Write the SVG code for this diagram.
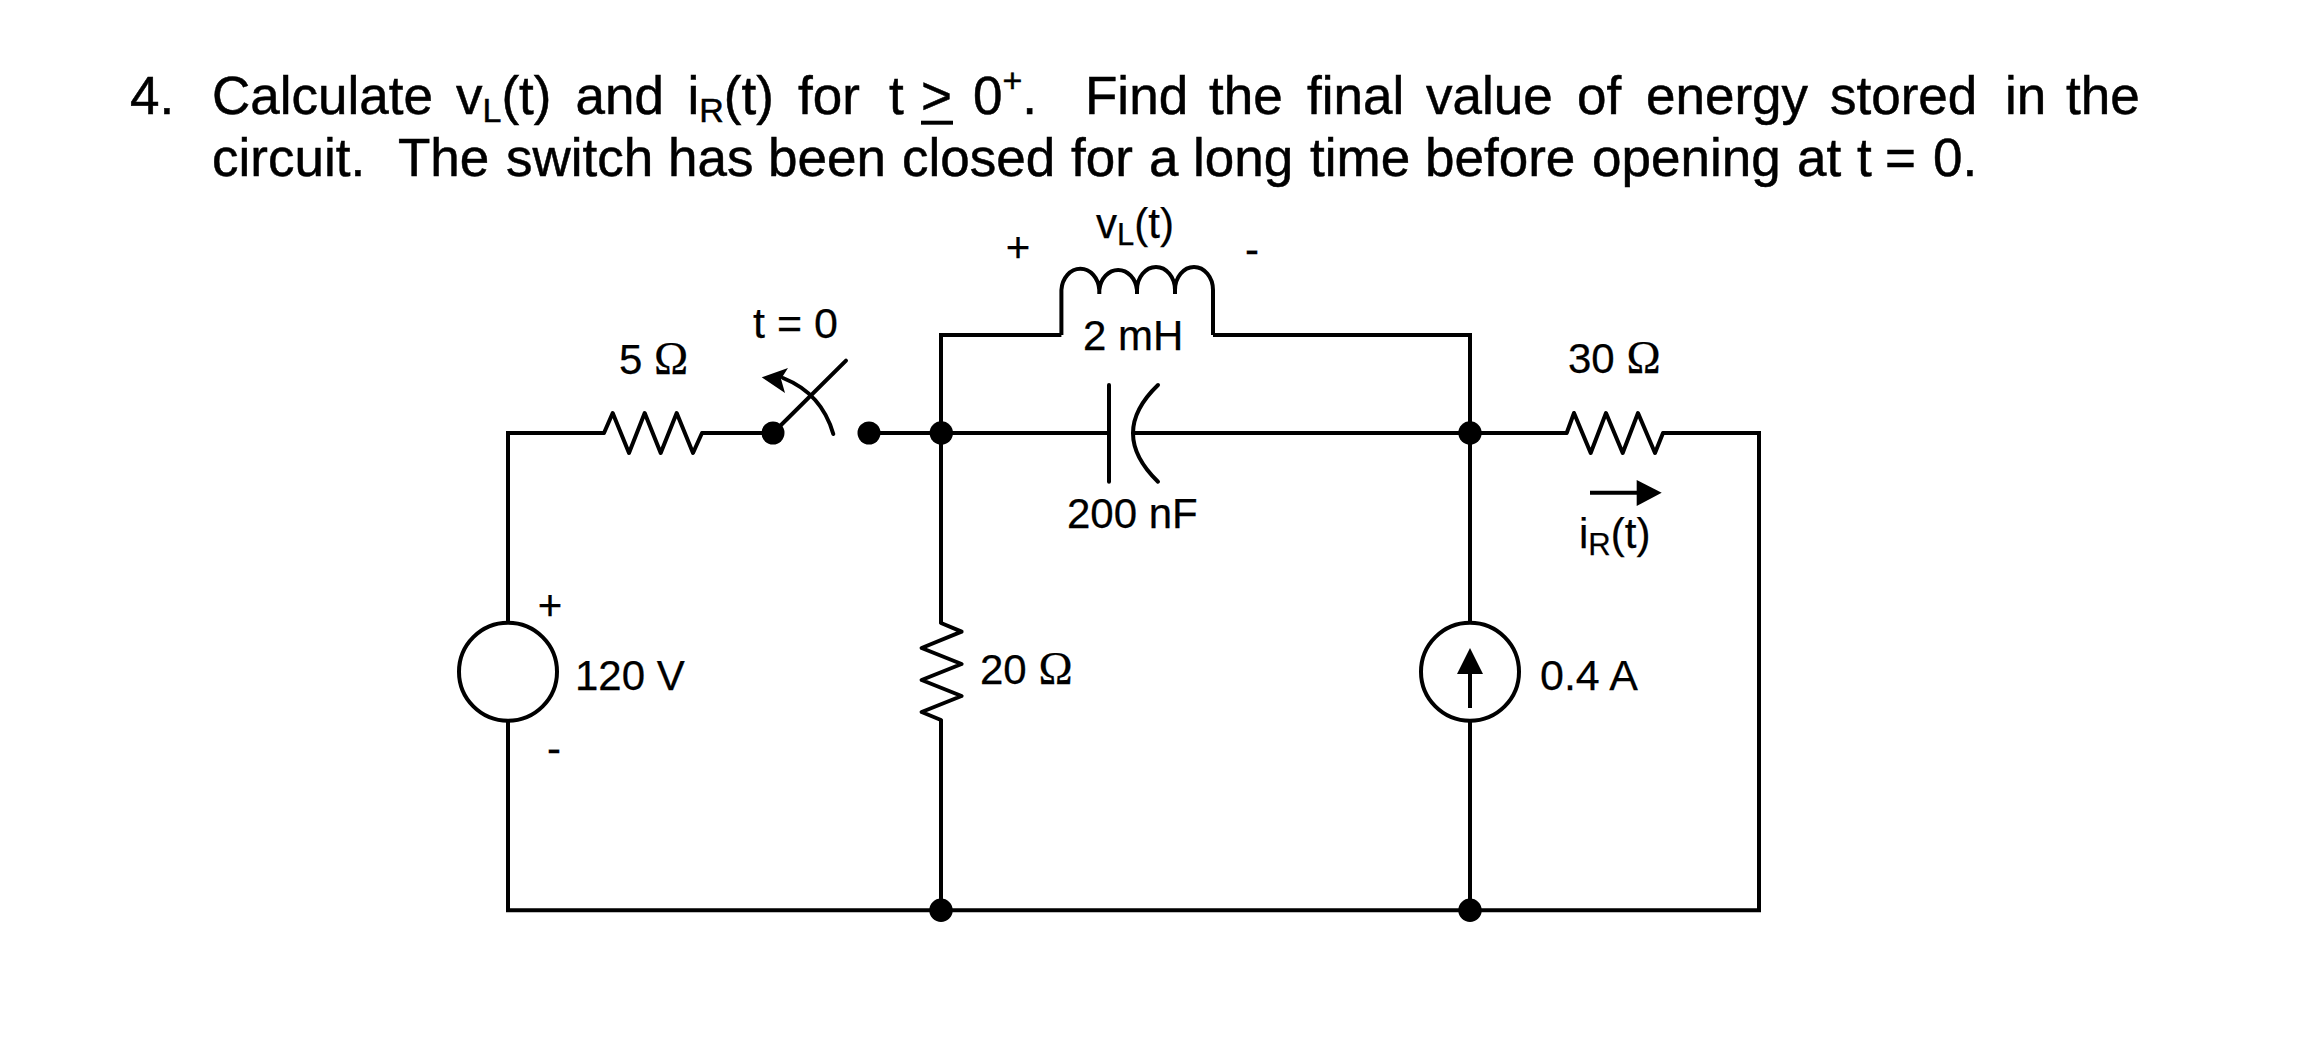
<svg xmlns="http://www.w3.org/2000/svg" width="2322" height="1040" viewBox="0 0 2322 1040">
<style>
text{font-family:"Liberation Sans",Arial,sans-serif;fill:#000}
.t{font-size:53px;stroke:#000;stroke-width:.5}
.l{font-size:42px;stroke:#000;stroke-width:.25}
.s{font-size:34px}
.u{font-size:31px}
.o{font-family:"Liberation Serif","DejaVu Serif",serif;font-size:46px}
.w{fill:none;stroke:#000;stroke-width:4;stroke-linejoin:miter;stroke-linecap:butt}
.r{stroke-linecap:round;stroke-linejoin:round}
.d{fill:#000}
</style>
<rect width="2322" height="1040" fill="#fff"/>
<g id="problem-text">
<text class="t" y="114"><tspan x="130">4.</tspan><tspan x="212">Calculate</tspan><tspan x="456">v</tspan><tspan class="s" dy="8">L</tspan><tspan dy="-8">(t)</tspan><tspan x="575.5">and</tspan><tspan x="687.5">i</tspan><tspan class="s" dy="8">R</tspan><tspan dy="-8">(t)</tspan><tspan x="798">for</tspan><tspan x="889">t</tspan><tspan x="921">&gt;</tspan><tspan x="973">0</tspan><tspan class="s" dy="-22">+</tspan><tspan dy="22">.</tspan><tspan x="1085">Find</tspan><tspan x="1209">the</tspan><tspan x="1307">final</tspan><tspan x="1426">value</tspan><tspan x="1577">of</tspan><tspan x="1646">energy</tspan><tspan x="1830">stored</tspan><tspan x="2005">in</tspan><tspan x="2066">the</tspan></text>
<line class="w" x1="921" y1="122.7" x2="953" y2="122.7"/>
<text class="t" y="176"><tspan x="212">circuit.</tspan><tspan x="398">The</tspan><tspan x="506">switch</tspan><tspan x="668">has</tspan><tspan x="768">been</tspan><tspan x="902">closed</tspan><tspan x="1071">for</tspan><tspan x="1149">a</tspan><tspan x="1193">long</tspan><tspan x="1310">time</tspan><tspan x="1425">before</tspan><tspan x="1592">opening</tspan><tspan x="1797">at</tspan><tspan x="1857">t</tspan><tspan x="1885">=</tspan><tspan x="1933">0.</tspan></text>
</g>
<g id="connectors">
<path class="w" d="M508 623V433H604"/>
<path class="w" d="M702 433H773"/>
<path class="w" d="M869 433H1109"/>
<path class="w" d="M1133 433H1566.7"/>
<path class="w" d="M1663 433H1759V910.3H508V720.7"/>
<path class="w" d="M941 623V335H1061.4"/>
<path class="w" d="M1213 335H1470V622.7"/>
<path class="w" d="M941 720V910.3"/>
<path class="w" d="M1470 720.7V910.3"/>
</g>
<g id="V1">
<circle class="w" cx="508" cy="671.7" r="49"/>
<text class="l" x="550" y="620" text-anchor="middle">+</text>
<text class="l" x="554" y="763" text-anchor="middle">-</text>
<text class="l" x="575" y="690">120 V</text>
</g>
<g id="R1">
<path class="w r" d="M604 433L612.7 413L629 453L644.7 413L660.7 453L676.7 413L693 453L702 433"/>
<text class="l" x="619" y="374">5 <tspan class="o">Ω</tspan></text>
</g>
<g id="S1">
<circle class="d" cx="773" cy="433" r="11.5"/>
<circle class="d" cx="869" cy="433" r="11.5"/>
<line class="w r" x1="773" y1="433" x2="846" y2="360.7"/>
<path class="w r" d="M833.3 434C825 405 808 388 783 378"/>
<path class="d" d="M761.7 377.3L788 368L781 379L785 393Z"/>
<text class="l" x="753" y="338" style="font-size:43px">t = 0</text>
</g>
<g id="L1">
<path class="w" d="M1061.4 335V290A19 23 0 0 1 1099.3 290V294M1099.3 290A19 23 0 0 1 1137 290V294M1137 290A19 23 0 0 1 1175 290V294M1175 290A19 23 0 0 1 1213 290V335"/>
<text class="l" x="1096" y="238">v<tspan class="u" dy="7">L</tspan><tspan dy="-7">(t)</tspan></text>
<text class="l" x="1018" y="262" text-anchor="middle">+</text>
<text class="l" x="1252" y="264" text-anchor="middle">-</text>
<text class="l" x="1083" y="350">2 mH</text>
</g>
<g id="C1">
<line class="w r" x1="1109" y1="385" x2="1109" y2="481.7"/>
<path class="w r" d="M1158 385Q1108 433 1158 481.7"/>
<text class="l" x="1067" y="528">200 nF</text>
</g>
<g id="R2">
<path class="w r" d="M941 623L961.6 631.7L921.6 648L961.6 664L921.6 680L961.6 696L921.6 712L941 720"/>
<text class="l" x="980" y="684">20 <tspan class="o">Ω</tspan></text>
</g>
<g id="R3">
<path class="w r" d="M1566.7 433L1574 413L1590.7 453L1606 413L1622.7 453L1638 413L1655 453L1663 433"/>
<text class="l" x="1568" y="373">30 <tspan class="o">Ω</tspan></text>
<line class="w" x1="1590" y1="492.7" x2="1640" y2="492.7"/>
<path class="d" d="M1661.7 492.7L1636.7 480V506Z"/>
<text class="l" x="1579" y="548">i<tspan class="u" dy="7">R</tspan><tspan dy="-7">(t)</tspan></text>
</g>
<g id="I1">
<circle class="w" cx="1470" cy="671.7" r="49"/>
<line class="w" x1="1470" y1="708" x2="1470" y2="670"/>
<path class="d" d="M1470 648L1483 674H1457Z"/>
<text class="l" x="1540" y="690" style="font-size:43px">0.4 A</text>
</g>
<g id="junctions">
<circle class="d" cx="941.3" cy="433" r="11.7"/>
<circle class="d" cx="1470" cy="433" r="11.7"/>
<circle class="d" cx="941" cy="910.3" r="11.7"/>
<circle class="d" cx="1470" cy="910.3" r="11.7"/>
</g>
</svg>
